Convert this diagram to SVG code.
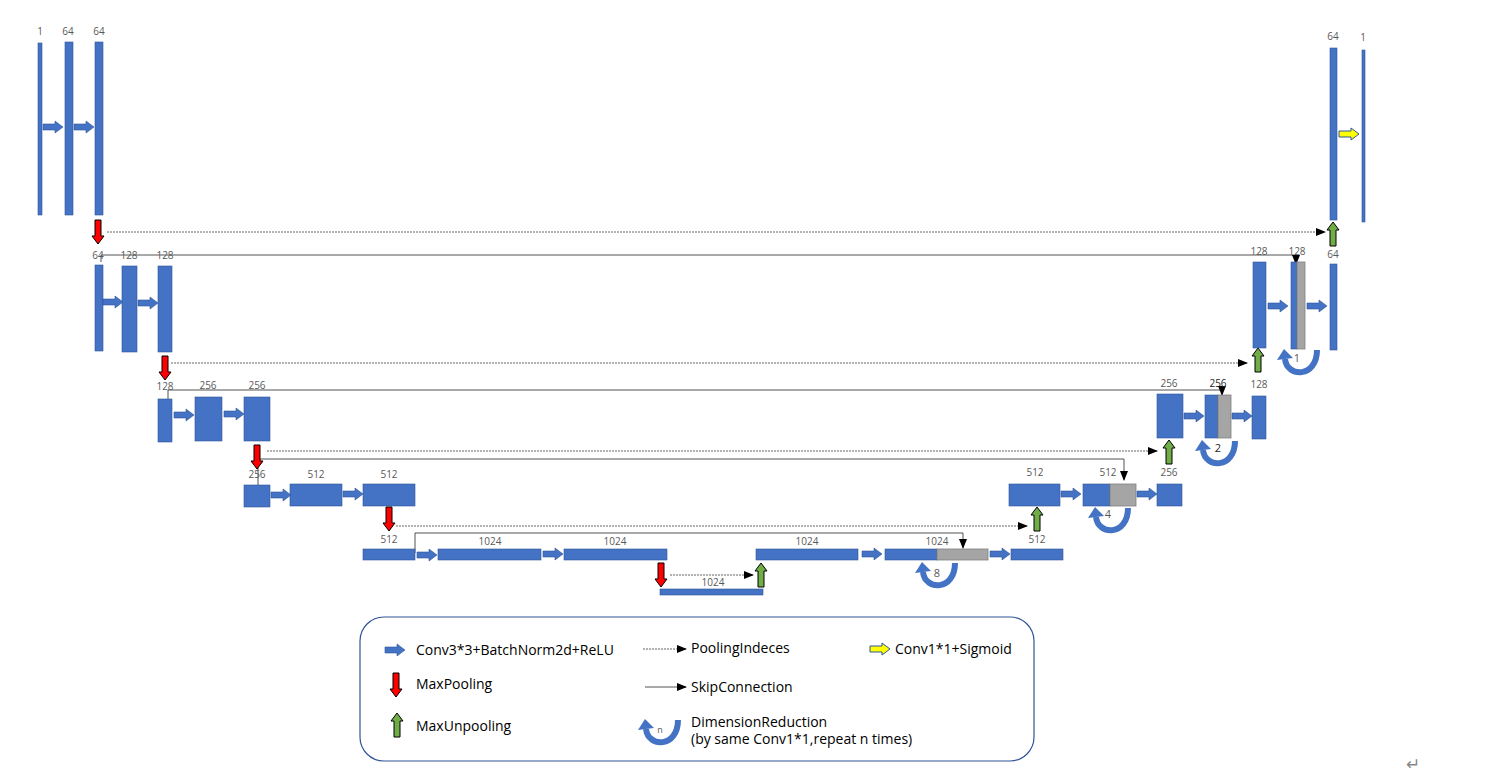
<svg xmlns="http://www.w3.org/2000/svg" xmlns:xlink="http://www.w3.org/1999/xlink" width="1493" height="777" viewBox="0 0 1493 777">
<style>
.b{fill:#4472c4;stroke:#2f5597;stroke-width:0.6}
.g{fill:#a5a5a5;stroke:#7f7f7f;stroke-width:0.8}
.l{font-family:"Open Sans","DejaVu Sans",sans-serif;font-size:10px;fill:#595959;text-anchor:middle}
.t{font-family:"Open Sans","DejaVu Sans",sans-serif;font-size:14px;fill:#000}
.d{stroke:#404040;stroke-width:0.8;stroke-dasharray:2 1;fill:none}
.s{stroke:#404040;stroke-width:0.9;fill:none}
</style>
<defs>
<marker id="ah" markerWidth="10" markerHeight="8" refX="9" refY="4" orient="auto" markerUnits="userSpaceOnUse"><path d="M0,0 L10,4 L0,8 Z" fill="#000"/></marker>
<path id="ba" d="M0,-3 H12 V-6 L20,0 L12,6 V3 H0 Z" fill="#4472c4" stroke="#2f5597" stroke-width="0.6"/>
<path id="ya" d="M0,-3 H12 V-6 L20,0 L12,6 V3 H0 Z" fill="#ffff00" stroke="#2f5597" stroke-width="1"/>
<path id="ra" d="M-3,0 H3 V16 H6 L0,24 L-6,16 H-3 Z" fill="#ff0000" stroke="#000" stroke-width="1"/>
<path id="ga" d="M-3,24 H3 V8 H6 L0,0 L-6,8 H-3 Z" fill="#70ad47" stroke="#000" stroke-width="1"/>
<g id="ca"><path d="M17,0 C17,28 -13,28 -15,9" fill="none" stroke="#4472c4" stroke-width="6"/><path d="M-23,10 L-16,-1 L-7,8 Z" fill="#4472c4"/></g>
</defs>
<g id="connectors">
<path class="d" d="M107,232 H1325" marker-end="url(#ah)"/>
<path class="s" d="M101,255 H1296 V264" marker-end="url(#ah)"/>
<path class="s" d="M101,255 V262"/>
<path class="d" d="M171,363 H1247" marker-end="url(#ah)"/>
<path class="s" d="M168,390 H1222 V395" marker-end="url(#ah)"/>
<path class="s" d="M168,390 V405"/>
<path class="d" d="M267,451 H1157" marker-end="url(#ah)"/>
<path class="s" d="M258,459 V487 M258,459 H1124 V480" marker-end="url(#ah)"/>
<path class="d" d="M396,526 H1027" marker-end="url(#ah)"/>
<path class="s" d="M415,553 V533 H963 V548" marker-end="url(#ah)"/>
<path class="d" d="M670,575 H753" marker-end="url(#ah)"/>
</g>
<g id="enc1">
<rect class="b" x="38" y="43" width="4" height="172"/><rect class="b" x="65" y="42" width="8" height="173"/><rect class="b" x="95" y="42" width="8" height="173"/>
<text class="l" x="40" y="35">1</text><text class="l" x="68" y="35">64</text><text class="l" x="99" y="35">64</text>
<use href="#ba" x="43" y="127"/><use href="#ba" x="74" y="127"/><use href="#ra" x="98" y="220"/>
</g>
<g id="enc2">
<rect class="b" x="95" y="265" width="8" height="86"/><rect class="b" x="122" y="266" width="15" height="86"/><rect class="b" x="158" y="266" width="14" height="86"/>
<text class="l" x="98" y="259">64</text><text class="l" x="129" y="259">128</text><text class="l" x="165" y="259">128</text>
<use href="#ba" x="103" y="302"/><use href="#ba" x="138" y="303"/><use href="#ra" x="165" y="356"/>
</g>
<g id="enc3">
<rect class="b" x="158" y="399" width="14" height="43"/><rect class="b" x="195" y="397" width="27" height="44"/><rect class="b" x="244" y="397" width="26" height="44"/>
<text class="l" x="165" y="390">128</text><text class="l" x="208" y="389">256</text><text class="l" x="257" y="389">256</text>
<use href="#ba" x="174" y="415"/><use href="#ba" x="224" y="414"/><use href="#ra" x="257" y="445"/>
</g>
<g id="enc4">
<rect class="b" x="244" y="485" width="26" height="22"/><rect class="b" x="290" y="484" width="52" height="22"/><rect class="b" x="363" y="484" width="52" height="22"/>
<text class="l" x="257" y="478">256</text><text class="l" x="316" y="478">512</text><text class="l" x="389" y="478">512</text>
<use href="#ba" x="271" y="495"/><use href="#ba" x="343" y="494"/><use href="#ra" x="389" y="507"/>
</g>
<g id="enc5">
<rect class="b" x="363" y="549" width="52" height="11"/><rect class="b" x="438" y="549" width="103" height="11"/><rect class="b" x="564" y="549" width="103" height="11"/>
<text class="l" x="389" y="543">512</text><text class="l" x="490" y="545">1024</text><text class="l" x="615" y="545">1024</text>
<use href="#ba" x="417" y="555"/><use href="#ba" x="543" y="554"/><use href="#ra" x="661" y="563"/>
</g>
<g id="bottom">
<rect class="b" x="660" y="589" width="103" height="6"/><text class="l" x="713" y="586">1024</text>
<use href="#ga" x="761" y="563"/>
</g>
<g id="dec5">
<rect class="b" x="756" y="549" width="102" height="11"/><text class="l" x="807" y="545">1024</text>
<use href="#ba" x="862" y="554"/>
<rect class="b" x="885" y="549" width="52" height="11"/><rect class="g" x="937" y="549" width="51" height="11"/><text class="l" x="937" y="545">1024</text>
<use href="#ca" x="938" y="563"/><text class="l" x="937" y="577" style="font-size:11px">8</text>
<use href="#ba" x="990" y="554"/>
<rect class="b" x="1011" y="549" width="52" height="11"/><text class="l" x="1037" y="543">512</text>
<use href="#ga" x="1037" y="507"/>
</g>
<g id="dec4">
<rect class="b" x="1009" y="484" width="51" height="22"/><text class="l" x="1035" y="476">512</text>
<use href="#ba" x="1061" y="494"/>
<rect class="b" x="1083" y="484" width="27" height="22"/><rect class="g" x="1110" y="484" width="26" height="22"/><text class="l" x="1108" y="476">512</text>
<use href="#ca" x="1111" y="508"/><text class="l" x="1108" y="518" style="font-size:11px">4</text>
<use href="#ba" x="1137" y="494"/>
<rect class="b" x="1157" y="484" width="25" height="22"/><text class="l" x="1169" y="476">256</text>
<use href="#ga" x="1169" y="440"/>
</g>
<g id="dec3">
<rect class="b" x="1157" y="394" width="26" height="44"/><text class="l" x="1169" y="387">256</text>
<use href="#ba" x="1184" y="416"/>
<rect class="b" x="1205" y="395" width="13" height="43"/><rect class="g" x="1218" y="395" width="13" height="43"/><text class="l" x="1218" y="387" style="fill:#222">256</text>
<use href="#ca" x="1218" y="441"/><text class="l" x="1218" y="452" style="font-size:11px;fill:#222">2</text>
<use href="#ba" x="1232" y="416"/>
<rect class="b" x="1252" y="396" width="14" height="43"/><text class="l" x="1259" y="388">128</text>
<use href="#ga" x="1258" y="348"/>
</g>
<g id="dec2">
<rect class="b" x="1253" y="262" width="13" height="86"/><text class="l" x="1259" y="255">128</text>
<use href="#ba" x="1268" y="306"/>
<rect class="b" x="1291" y="262" width="6" height="87"/><rect class="g" x="1297" y="262" width="8" height="87"/><text class="l" x="1297" y="255">128</text>
<use href="#ca" x="1300" y="350"/><text class="l" x="1297" y="362" style="font-size:11px">1</text>
<use href="#ba" x="1307" y="306"/>
<rect class="b" x="1330" y="264" width="7" height="86"/><text class="l" x="1333" y="258">64</text>
<use href="#ga" x="1333" y="222"/>
</g>
<g id="dec1">
<rect class="b" x="1330" y="48" width="7" height="172"/><text class="l" x="1333" y="40">64</text>
<use href="#ya" x="1339" y="134"/>
<rect class="b" x="1362" y="50" width="3" height="172"/><text class="l" x="1363" y="41">1</text>
</g>
<g id="legend">
<rect x="360" y="617" width="674" height="144" rx="24" fill="none" stroke="#2f5597" stroke-width="1.2"/>
<use href="#ba" x="385" y="650"/><text class="t" x="416" y="655">Conv3*3+BatchNorm2d+ReLU</text>
<path class="d" d="M643,649 H686" marker-end="url(#ah)"/><text class="t" x="691" y="653">PoolingIndeces</text>
<use href="#ya" x="870" y="649"/><text class="t" x="895" y="654">Conv1*1+Sigmoid</text>
<use href="#ra" x="396" y="673"/><text class="t" x="416" y="689">MaxPooling</text>
<path class="s" d="M645,687 H686" marker-end="url(#ah)"/><text class="t" x="691" y="692">SkipConnection</text>
<use href="#ga" x="397" y="713"/><text class="t" x="416" y="731">MaxUnpooling</text>
<use href="#ca" x="661" y="720"/><text class="l" x="660" y="733" style="font-size:9px">n</text>
<text class="t" x="691" y="727">DimensionReduction</text><text class="t" x="691" y="744">(by same Conv1*1,repeat n times)</text>
</g>
<text x="1413" y="770" style="font-family:'DejaVu Sans',sans-serif;font-size:17px;fill:#888" text-anchor="middle">↵</text>
</svg>
